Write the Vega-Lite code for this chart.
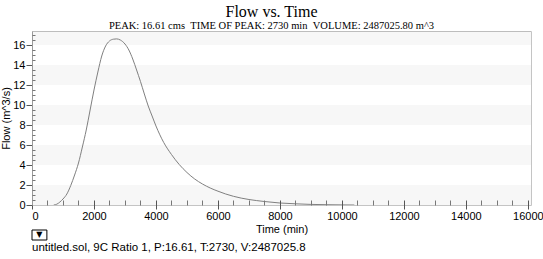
{
  "$schema": "https://vega.github.io/schema/vega-lite/v6.json",
  "width": 499,
  "height": 174,
  "autosize": "none",
  "padding": {"left": 32, "top": 31, "right": 12, "bottom": 54},
  "background": "white",
  "config": {
    "view": {"stroke": "#c4c4c4", "strokeWidth": 1},
    "font": "Liberation Sans",
    "axis": {"grid": false, "zindex": 1, "labelFont": "Liberation Sans", "titleFont": "Liberation Sans", "labelColor": "#000", "titleColor": "#000", "titleFontWeight": "normal", "labelFontSize": 11, "titleFontSize": 11}
  },
  "title": {
    "text": "Flow vs. Time",
    "subtitle": "PEAK: 16.61 cms \u00a0TIME OF PEAK: 2730 min \u00a0VOLUME: 2487025.80 m^3",
    "font": "Liberation Serif",
    "fontSize": 16,
    "fontWeight": "normal",
    "color": "#000",
    "subtitleFont": "Liberation Serif",
    "subtitleFontSize": 10.5,
    "subtitleColor": "#000",
    "subtitlePadding": 1,
    "anchor": "middle",
    "frame": "group",
    "dx": -10,
    "offset": 0
  },
  "datasets": {
    "flow": [
      {"t": 700, "v": 0}, {"t": 800, "v": 0.08}, {"t": 900, "v": 0.3}, {"t": 1000, "v": 0.6},
      {"t": 1125, "v": 1.1}, {"t": 1250, "v": 1.95}, {"t": 1375, "v": 3.0}, {"t": 1500, "v": 4.2},
      {"t": 1625, "v": 5.8}, {"t": 1750, "v": 7.5}, {"t": 1875, "v": 9.5}, {"t": 2000, "v": 11.5},
      {"t": 2125, "v": 13.3}, {"t": 2250, "v": 14.9}, {"t": 2375, "v": 15.9}, {"t": 2500, "v": 16.4},
      {"t": 2625, "v": 16.58}, {"t": 2730, "v": 16.61}, {"t": 2850, "v": 16.5}, {"t": 3000, "v": 16.1},
      {"t": 3125, "v": 15.5}, {"t": 3250, "v": 14.6}, {"t": 3375, "v": 13.5}, {"t": 3500, "v": 12.35},
      {"t": 3625, "v": 11.1}, {"t": 3750, "v": 9.9}, {"t": 3875, "v": 8.9}, {"t": 4000, "v": 7.9},
      {"t": 4250, "v": 6.25}, {"t": 4500, "v": 5.05}, {"t": 4750, "v": 4.05}, {"t": 5000, "v": 3.25},
      {"t": 5250, "v": 2.6}, {"t": 5500, "v": 2.1}, {"t": 5750, "v": 1.7}, {"t": 6000, "v": 1.38},
      {"t": 6250, "v": 1.1}, {"t": 6500, "v": 0.87}, {"t": 6750, "v": 0.69}, {"t": 7000, "v": 0.55},
      {"t": 7500, "v": 0.35}, {"t": 8000, "v": 0.2}, {"t": 8500, "v": 0.12}, {"t": 9000, "v": 0.06},
      {"t": 9500, "v": 0.03}, {"t": 10000, "v": 0.01}, {"t": 10400, "v": 0}
    ],
    "bands": [
      {"lo": 0, "hi": 2}, {"lo": 4, "hi": 6}, {"lo": 8, "hi": 10}, {"lo": 12, "hi": 14}, {"lo": 16, "hi": 17.4}
    ],
    "footer": [
      {"label": "untitled.sol, 9C Ratio 1, P:16.61, T:2730, V:2487025.8", "btn": "▼"}
    ]
  },
  "layer": [
    {
      "data": {"name": "bands"},
      "mark": {"type": "rect", "color": "#000000", "opacity": 0.03},
      "encoding": {
        "y": {"field": "lo", "type": "quantitative", "scale": {"domain": [0, 17.4], "nice": false, "zero": false}, "axis": null},
        "y2": {"field": "hi"}
      }
    },
    {
      "data": {"name": "flow"},
      "mark": {"type": "line", "color": "#808080", "strokeWidth": 1, "interpolate": "monotone", "clip": true},
      "encoding": {
        "x": {
          "field": "t", "type": "quantitative",
          "scale": {"domain": [0, 16100], "nice": false, "zero": false},
          "axis": {"orient": "bottom", "zindex": 2, "title": "Time (min)", "values": [0, 2000, 4000, 6000, 8000, 10000, 12000, 14000, 16000], "format": "d", "offset": -5, "tickSize": 9, "tickColor": "#555", "domain": false, "labelPadding": 1, "titlePadding": 2}
        },
        "y": {
          "field": "v", "type": "quantitative",
          "scale": {"domain": [0, 17.4], "nice": false, "zero": false},
          "axis": {"orient": "left", "zindex": 2, "title": "Flow (m^3/s)", "values": [0, 2, 4, 6, 8, 10, 12, 14, 16], "tickSize": 6, "tickColor": "#555", "domain": true, "domainColor": "#9a9a9a", "labelPadding": 1, "titleX": -21}
        }
      }
    },
    {
      "data": {"values": [{"t": 0, "v": 0}]},
      "mark": {"type": "point", "opacity": 0},
      "encoding": {
        "x": {
          "field": "t", "type": "quantitative",
          "scale": {"domain": [0, 16100], "nice": false, "zero": false},
          "axis": {"orient": "bottom", "zindex": 2, "title": null, "labels": false, "domain": false, "offset": -5, "tickSize": 5, "tickColor": "#777",
            "values": [500, 1000, 1500, 2500, 3000, 3500, 4500, 5000, 5500, 6500, 7000, 7500, 8500, 9000, 9500, 10500, 11000, 11500, 12500, 13000, 13500, 14500, 15000, 15500]}
        },
        "y": {
          "field": "v", "type": "quantitative",
          "scale": {"domain": [0, 17.4], "nice": false, "zero": false},
          "axis": {"orient": "left", "zindex": 2, "title": null, "labels": false, "domain": false, "offset": -3, "tickSize": 3, "tickColor": "#777",
            "values": [0.5, 1, 1.5, 2.5, 3, 3.5, 4.5, 5, 5.5, 6.5, 7, 7.5, 8.5, 9, 9.5, 10.5, 11, 11.5, 12.5, 13, 13.5, 14.5, 15, 15.5, 16.5, 17]}
        }
      }
    },
    {
      "mark": {"type": "rule", "color": "#7a7a7a", "strokeWidth": 3, "yOffset": 1.5},
      "encoding": {
        "y": {"datum": 0, "type": "quantitative", "axis": null}
      }
    },
    {
      "mark": {"type": "rule", "color": "#808080", "strokeWidth": 3, "xOffset": 2.5, "clip": false},
      "encoding": {
        "x": {"datum": 16100, "type": "quantitative", "axis": null},
        "y": {"datum": 17.15, "type": "quantitative", "axis": null},
        "y2": {"datum": -0.3}
      }
    },
    {
      "data": {"name": "footer"},
      "mark": {"type": "rect", "fill": "white", "stroke": "#000", "strokeWidth": 1, "clip": false},
      "encoding": {
        "x": {"datum": 0, "type": "quantitative", "axis": null},
        "x2": {"datum": 480},
        "y": {"datum": -2.5, "type": "quantitative", "axis": null},
        "y2": {"datum": -3.5}
      }
    },
    {
      "data": {"name": "footer"},
      "mark": {"type": "text", "fontSize": 8, "align": "center", "baseline": "middle", "color": "#000", "clip": false, "font": "DejaVu Sans"},
      "encoding": {
        "x": {"datum": 240, "type": "quantitative", "axis": null},
        "y": {"datum": -3.0, "type": "quantitative", "axis": null},
        "text": {"field": "btn"}
      }
    },
    {
      "data": {"name": "footer"},
      "mark": {"type": "text", "fontSize": 11.5, "align": "left", "baseline": "middle", "color": "#000", "clip": false, "font": "Liberation Sans"},
      "encoding": {
        "x": {"datum": 0, "type": "quantitative", "axis": null},
        "y": {"datum": -4.3, "type": "quantitative", "axis": null},
        "text": {"field": "label"}
      }
    }
  ],
  "resolve": {"axis": {"x": "independent", "y": "independent"}}
}
